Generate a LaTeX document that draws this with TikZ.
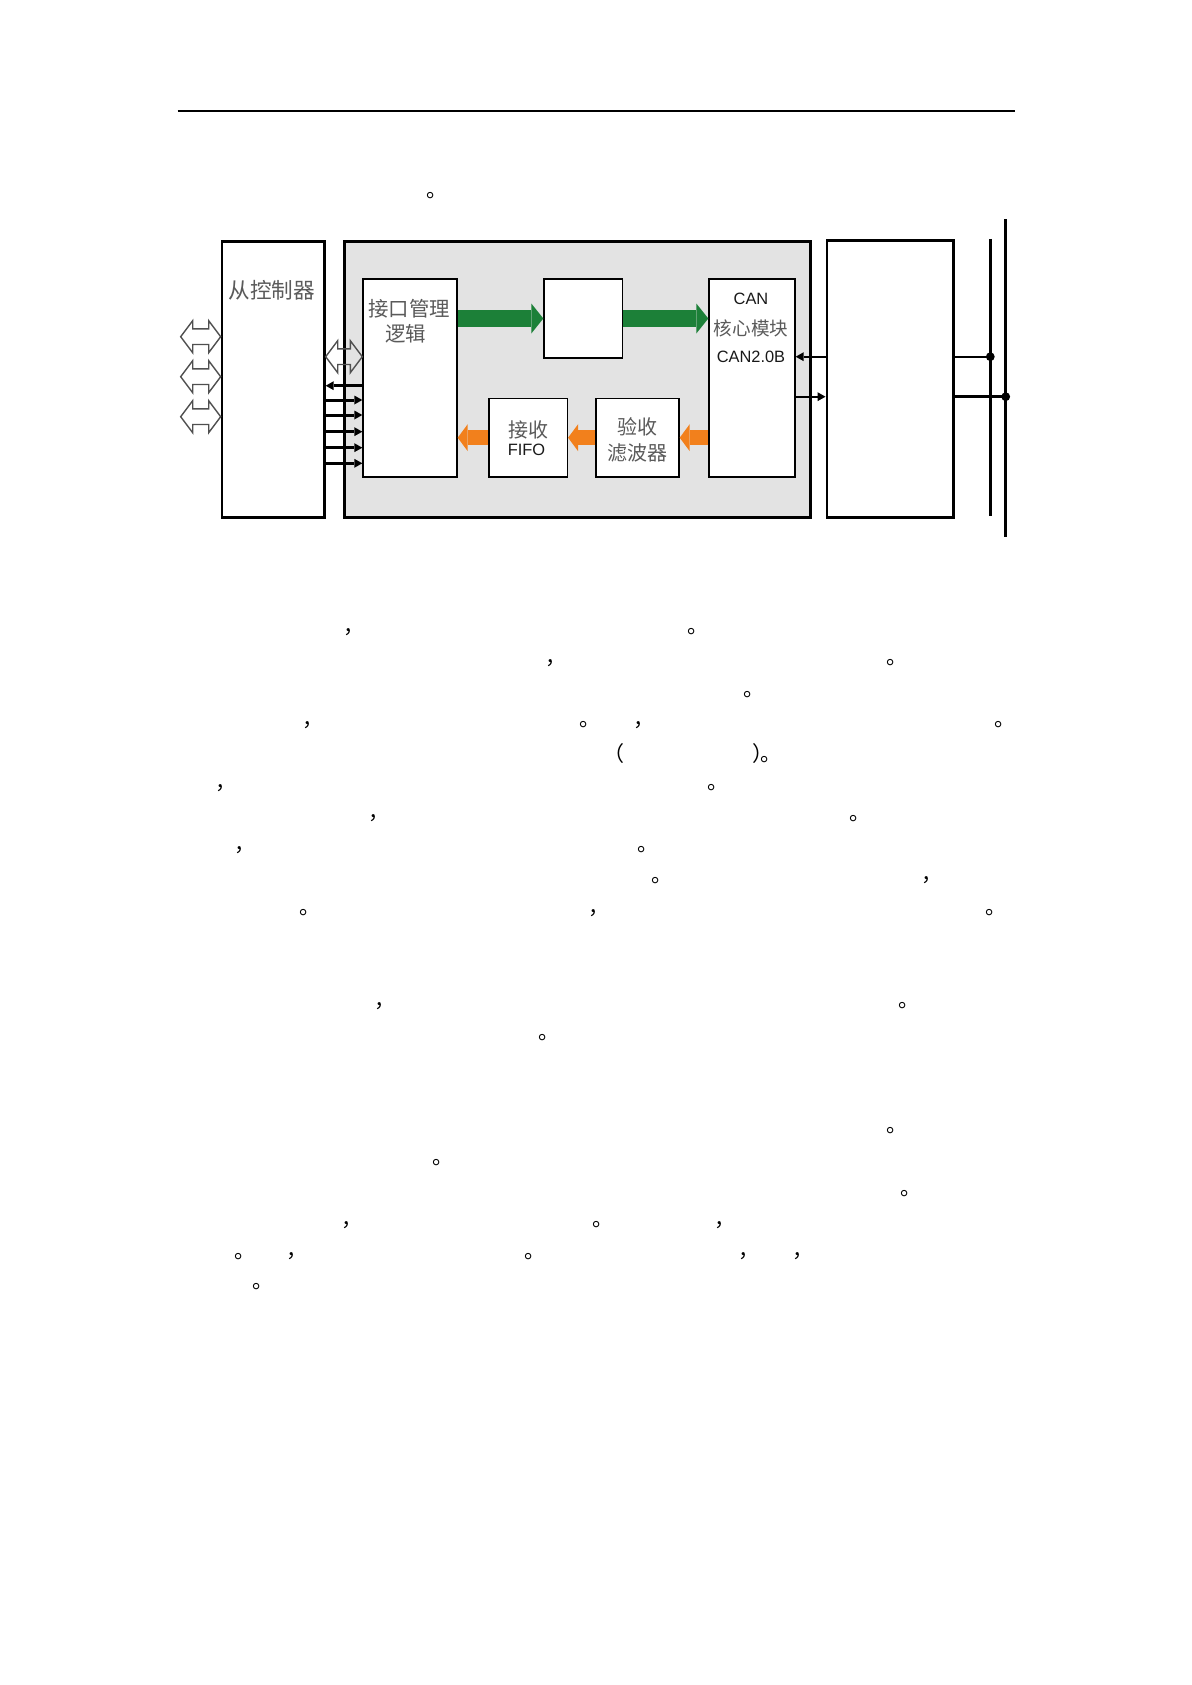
\documentclass[tikz,border=0pt]{standalone}
\usepackage{fontspec}
\newfontfamily\cjk{Noto Sans CJK SC}
\newfontfamily\arial{Liberation Sans}
\usetikzlibrary{arrows.meta,calc}

\definecolor{panelgrey}{RGB}{227,227,227}
\definecolor{flowgreen}{RGB}{28,128,56}
\definecolor{floworange}{RGB}{242,128,28}
\definecolor{labelgrey}{RGB}{90,90,90}
\definecolor{outlinegrey}{RGB}{80,80,80}

\tikzset{
  bigbox/.style={draw, line width=1.3pt, anchor=north west, inner sep=0pt},
  smallbox/.style={draw, fill=white, line width=0.7pt, anchor=north west, inner sep=0pt},
  cjklabel/.style={font=\cjk\fontsize{10}{12}\selectfont, text=labelgrey, inner sep=0pt},
  canlabel/.style={font=\arial\fontsize{8.2}{10}\selectfont, text=black!90, inner sep=0pt},
  greenflow/.style={draw=flowgreen, line width=8.3pt, -{Triangle[length=6pt,width=15pt,line width=0pt]}},
  orangeflow/.style={draw=floworange, line width=7.5pt, -{Triangle[length=5pt,width=13.5pt,line width=0pt]}},
  sigline/.style={line width=1.5pt, -{Triangle[length=4pt,width=4.5pt,line width=0pt]}},
  canline/.style={line width=1.2pt, -{Triangle[length=4pt,width=4.5pt,line width=0pt]}},
  hollow/.style={draw=outlinegrey, line width=0.7pt, line join=miter},
  punct/.style={font=\cjk\fontsize{10.5}{12}\selectfont, inner sep=0pt, xshift=3pt},
  paren/.style={font=\cjk\fontsize{10.5}{12}\selectfont, inner sep=0pt},
}

% hollow double arrow between two points on one row
\newcommand{\hollowarrow}[2]{%
  \draw[hollow] let \p1=(#1), \p2=(#2) in
    (\x1,\y1) -- (\x1+6pt,\y1+8pt) -- (\x1+6pt,\y1+3.9pt) -- (\x2-6pt,\y1+3.9pt)
    -- (\x2-6pt,\y1+8pt) -- (\x2,\y1) -- (\x2-6pt,\y1-8pt) -- (\x2-6pt,\y1-3.9pt)
    -- (\x1+6pt,\y1-3.9pt) -- (\x1+6pt,\y1-8pt) -- cycle;}

\begin{document}
\begin{tikzpicture}[x=0.5pt, y=-0.5pt]
    \useasboundingbox[fill=white] (0,0) rectangle (1191,1685);

    % Draw page rule
    \coordinate (ruleL) at (177.6,111);
    \coordinate (ruleR) at (1015,111);
    \draw [line width=0.7pt] (ruleL) -- (ruleR);

    % Draw blocks
    \node [bigbox, minimum width=51.2pt, minimum height=138pt] (ctrl) at (220.7,240) {};
    \node [bigbox, fill=panelgrey, minimum width=233pt, minimum height=138pt] (core) at (343.3,240) {};
    \node [bigbox, minimum width=63.4pt, minimum height=138.5pt] (xcvr) at (825.5,239) {};
    \node [smallbox, minimum width=47pt, minimum height=99pt] (ifc) at (362.3,278.3) {};
    \node [smallbox, minimum width=39.2pt, minimum height=39.5pt] (buf) at (543.3,278.3) {};
    \node [smallbox, minimum width=43pt, minimum height=99pt] (can) at (708.3,278.3) {};
    \node [smallbox, minimum width=39.2pt, minimum height=39.3pt] (fifo) at (488.3,397.7) {};
    \node [smallbox, minimum width=41.5pt, minimum height=39.3pt] (filt) at (595.3,397.7) {};

    % Labels
    \node [cjklabel, font=\cjk\fontsize{10.8}{12}\selectfont] (lctrl) at (271.7,290) {从控制器};
    \node [cjklabel, font=\cjk\fontsize{10.2}{12}\selectfont] (lifc1) at (409,308.3) {接口管理};
    \node [cjklabel, font=\cjk\fontsize{10.2}{12}\selectfont] (lifc2) at (405.7,333.3) {逻辑};
    \node [canlabel] (lcan1) at (751,299.3) {CAN};
    \node [cjklabel, font=\cjk\fontsize{9.3}{12}\selectfont] (lcan2) at (751,328.3) {核心模块};
    \node [canlabel] (lcan3) at (751,356.7) {CAN2.0B};
    \node [cjklabel] (lfifo1) at (528,430) {接收};
    \node [canlabel] (lfifo2) at (526.5,450) {FIFO};
    \node [cjklabel] (lfilt1) at (637.3,426.7) {验收};
    \node [cjklabel] (lfilt2) at (637.3,453.3) {滤波器};

    % Host side
    \foreach \row [count=\i] in {336.7,376.7,416.7} {
        \coordinate (host\i) at (180.7,\row);
        \hollowarrow{host\i}{ctrl.west |- host\i}
    }
    \coordinate (busrow) at (0,356.7);
    \hollowarrow{ctrl.east |- busrow}{ifc.west |- busrow}
    \coordinate (irq) at (0,385.7);
    \draw [sigline] (ifc.west |- irq) -- (ctrl.east |- irq);
    \foreach \row [count=\i] in {400,415,431.7,447.7,463.3} {
        \coordinate (ctl\i) at (0,\row);
        \draw [sigline] (ctrl.east |- ctl\i) -- (ifc.west |- ctl\i);
    }

    % Transmit and receive paths
    \draw [greenflow] (ifc.east |- buf.west) -- (buf.west);
    \draw [greenflow] (buf.east) -- (can.west |- buf.east);
    \draw [orangeflow] (can.west |- filt.east) -- (filt.east);
    \draw [orangeflow] (filt.west) -- (fifo.east);
    \draw [orangeflow] (fifo.west) -- (ifc.east |- fifo.west);

    % Transceiver and bus
    \coordinate (rxrow) at (0,356.7);
    \coordinate (txrow) at (0,396.7);
    \draw [canline] (xcvr.west |- rxrow) -- (can.east |- rxrow);
    \draw [canline] (can.east |- txrow) -- (xcvr.west |- txrow);
    \coordinate (hiTop) at (990.3,239);
    \coordinate (hiBot) at (990.3,516);
    \coordinate (loTop) at (1005.7,219.3);
    \coordinate (loBot) at (1005.7,536.7);
    \draw [line width=1.6pt] (hiTop) -- (hiBot);
    \draw [line width=1.3pt] (loTop) -- (loBot);
    \draw [line width=1pt] (xcvr.east |- rxrow) -- (hiTop |- rxrow);
    \draw [line width=1.6pt] (xcvr.east |- txrow) -- (loTop |- txrow);
    \fill (hiTop |- rxrow) circle (2.2pt);
    \fill (loTop |- txrow) circle (2.2pt);

    % Punctuation left in the body text
    \foreach \px/\py/\ch [count=\i] in {
        430.6/196/。,
        347.6/631.7/，, 692.4/631.7/。,
        550.4/662.7/，, 890.7/662.7/。,
        747.6/694.3/。,
        306.5/725/，, 583.7/725/。, 637.7/725/，, 999.4/725/。,
        220.3/787.7/，, 712.1/787.7/。,
        373/818.3/，, 854/818.3/。,
        238.9/850/，, 641.7/850/。,
        655.5/880.5/。, 925.7/880.5/，,
        303.7/912.7/。, 592.7/912.7/，, 989.9/912.7/。,
        379/1006/，, 902.5/1006/。,
        543/1037.3/。,
        891/1131/。,
        437/1162.3/。,
        905/1193.3/。,
        346/1225/，, 596.6/1225/。, 719/1225/，,
        238.9/1256.5/。, 290.7/1256.5/，, 529/1256.5/。, 743/1256.5/，, 796.6/1256.5/，,
        257/1287/。} {
        \node [punct] (p\i) at (\px,\py) {\ch};
    }
    \node [paren, xshift=-2.5pt] (popen) at (619,753.3) {（};
    \node [paren] (pclose) at (766.5,753.3) {）\kern-6.5pt。};
\end{tikzpicture}
\end{document}
